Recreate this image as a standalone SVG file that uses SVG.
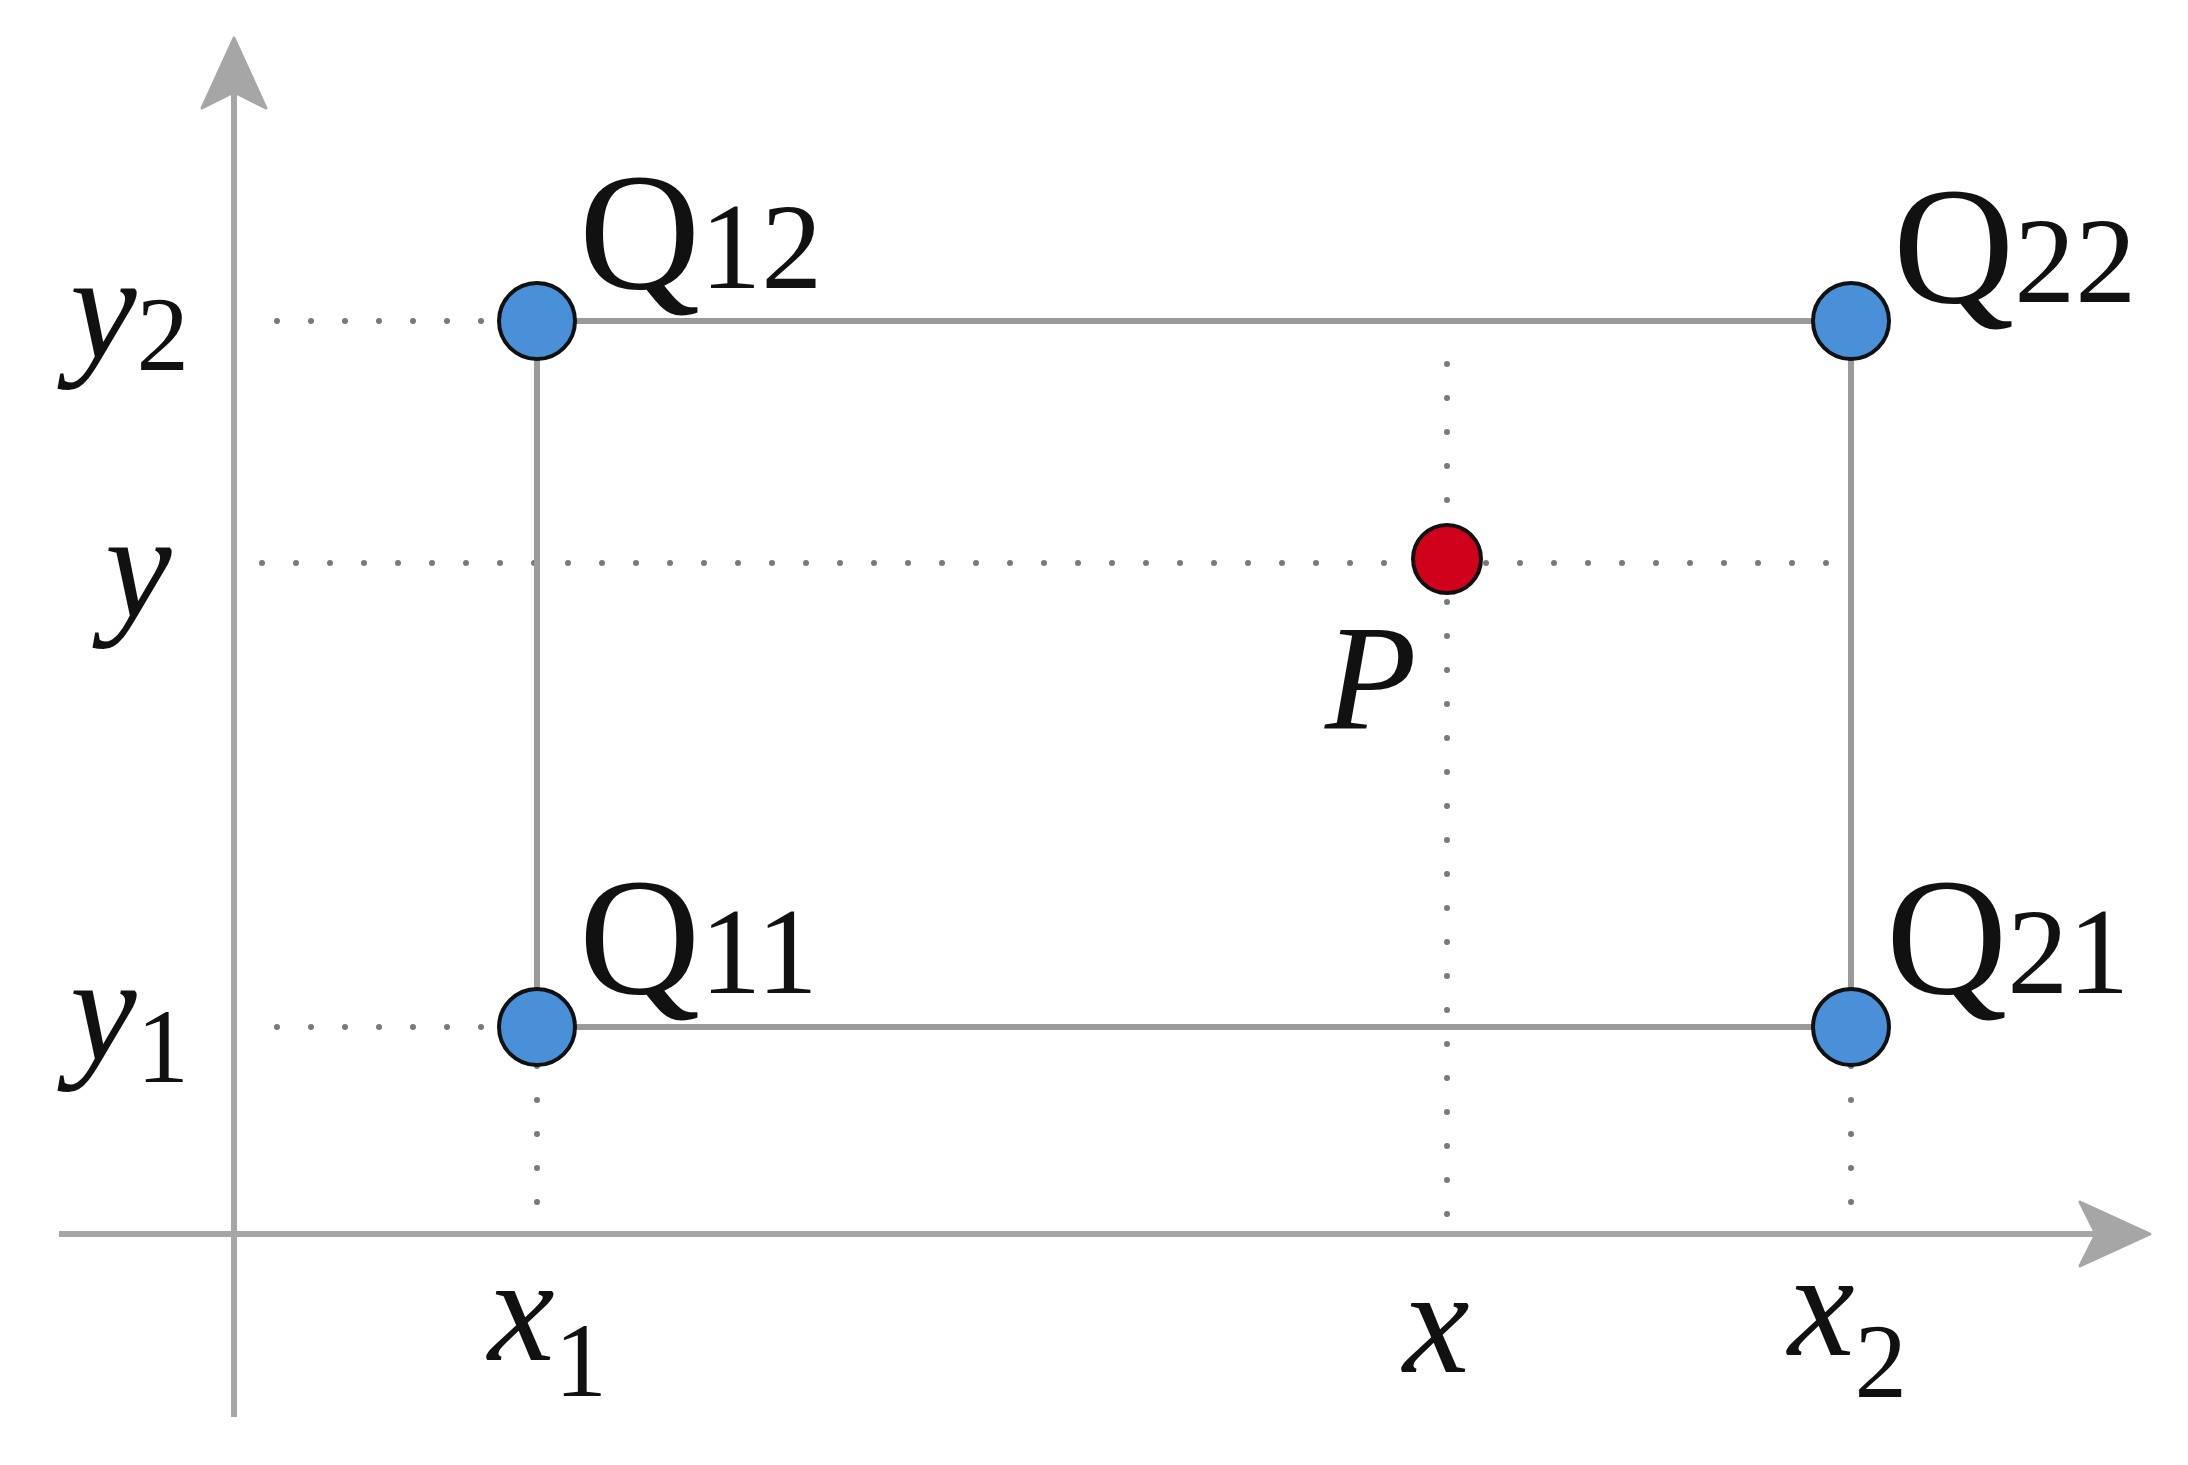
<svg xmlns="http://www.w3.org/2000/svg" width="2188" height="1465" viewBox="0 0 2188 1465">
<style>
.ax{stroke:#a6a6a6;stroke-width:6;fill:none}
.ah{fill:#a6a6a6;stroke:#a6a6a6;stroke-width:3;stroke-linejoin:round}
.ln{stroke:#9a9a9a;stroke-width:6;fill:none}
.dt{stroke:#7a7a7a;stroke-width:6;stroke-linecap:round;stroke-dasharray:0 34;fill:none}
.q{fill:#4a90d9;stroke:#111;stroke-width:4}
.p{fill:#d0021b;stroke:#111;stroke-width:4}
text{font-family:"Liberation Serif","DejaVu Serif",serif;fill:#111}
.lb{font-size:168px}
.it{font-style:italic;font-size:150px}
.sb{font-size:122px}
.ss{font-size:105px}
</style>
<rect width="2188" height="1465" fill="#fff"/>
<g id="connectors">
<line class="ax" x1="234" y1="1417" x2="234" y2="60"/>
<path class="ah" d="M202 108 L234 38 L266 108 L234 92 Z"/>
<line class="ax" x1="59" y1="1234" x2="2120" y2="1234"/>
<path class="ah" d="M2080 1202 L2150 1234 L2080 1266 L2096 1234 Z"/>
<line class="dt" x1="277" y1="321" x2="500" y2="321"/>
<line class="dt" x1="262" y1="563" x2="1850" y2="563"/>
<line class="dt" x1="277" y1="1027" x2="500" y2="1027"/>
<line class="dt" x1="1447" y1="364" x2="1447" y2="1234"/>
<line class="dt" x1="537" y1="1066" x2="537" y2="1234"/>
<line class="dt" x1="1851" y1="1066" x2="1851" y2="1234"/>
<line class="ln" x1="537" y1="321" x2="1851" y2="321"/>
<line class="ln" x1="537" y1="1027" x2="1851" y2="1027"/>
<line class="ln" x1="537" y1="321" x2="537" y2="1027"/>
<line class="ln" x1="1851" y1="321" x2="1851" y2="1027"/>
</g>
<g id="Q12"><circle class="q" cx="537" cy="321" r="38"/><text x="579" y="288"><tspan class="lb">Q</tspan><tspan class="sb">12</tspan></text></g>
<g id="Q22"><circle class="q" cx="1851" cy="321" r="38"/><text x="1893" y="302"><tspan class="lb">Q</tspan><tspan class="sb">22</tspan></text></g>
<g id="Q11"><circle class="q" cx="537" cy="1027" r="38"/><text x="579" y="993"><tspan class="lb">Q</tspan><tspan class="sb">11</tspan></text></g>
<g id="Q21"><circle class="q" cx="1851" cy="1027" r="38"/><text x="1886" y="993"><tspan class="lb">Q</tspan><tspan class="sb">21</tspan></text></g>
<g id="P"><circle class="p" cx="1447" cy="559" r="34"/><text class="it" x="1325" y="729">P</text></g>
<g id="labels">
<text x="70" y="358"><tspan class="it">y</tspan><tspan class="ss" dy="12">2</tspan></text>
<text class="it" x="105" y="617">y</text>
<text x="70" y="1060"><tspan class="it">y</tspan><tspan class="ss" dy="22">1</tspan></text>
<text x="488" y="1360"><tspan class="it">x</tspan><tspan class="ss" dy="36">1</tspan></text>
<text class="it" x="1403" y="1372">x</text>
<text x="1788" y="1355"><tspan class="it">x</tspan><tspan class="ss" dy="42">2</tspan></text>
</g>
</svg>
